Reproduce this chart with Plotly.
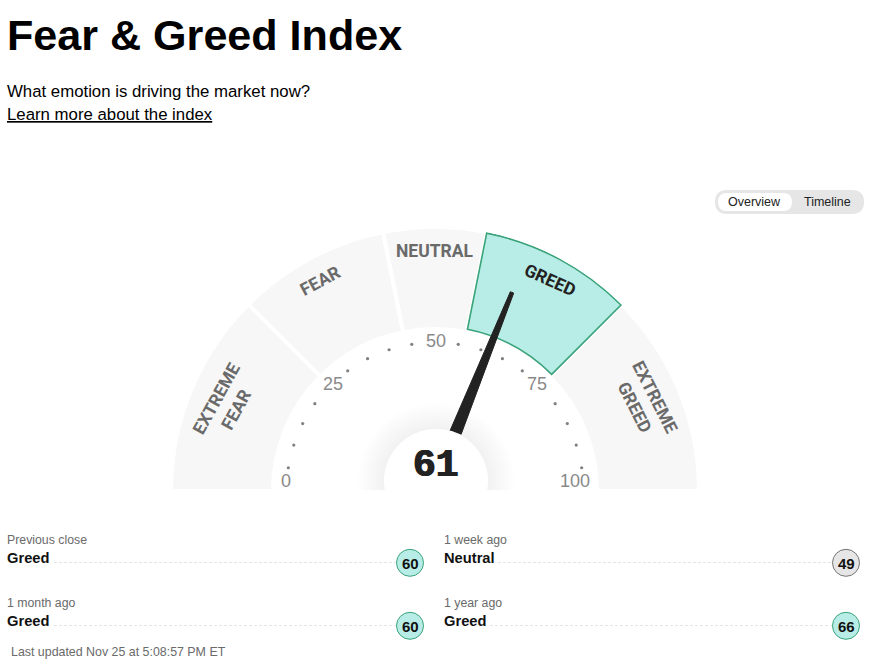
#!/usr/bin/env python3
# Fear & Greed gauge with the little history list below it.
import numpy as np
import plotly.graph_objects as go

W = 882
H = 659

# Gauge data
score = 61
band_names = ["EXTREME<br>FEAR", "FEAR", "NEUTRAL", "GREED", "EXTREME<br>GREED"]
band_edges = [0, 25, 43.7, 56.3, 75, 100]
tick_values = [0, 25, 50, 75, 100]
dot_values = [5, 10, 15, 20, 30, 35, 40, 45, 55, 60, 65, 70, 80, 85, 90, 95]

# History list
history_periods = ["Previous close", "1 week ago", "1 month ago", "1 year ago"]
history_ratings = ["Greed", "Neutral", "Greed", "Greed"]
history_scores = [60, 49, 60, 66]

SANS = "Liberation Sans"
CONDENSED = "Roboto"
MINT = "#b8ede7"
GREEN = "#3aa37a"
DARK = "#222222"
GRAY_TEXT = "#6a6a6a"

# Gauge geometry in pixels
CX = 435
CY = 491
R_MAX = 264
R_OUT = 263
R_IN = 165
R_DOTS = 148.5


def px(x):
    return x / W


def py(y):
    return 1 - y / H


def text(x, y, s, size, color="#000000", font=SANS, anchor="left", angle=0, shadow=None):
    f = dict(family=font, size=size, color=color)
    if shadow:
        f["shadow"] = shadow
    fig.add_annotation(xref="paper", yref="paper", x=px(x), y=py(y), text=s,
                       showarrow=False, xanchor=anchor, yanchor="middle",
                       textangle=angle, borderpad=0, align="center", font=f)


def circle(x, y, r, fill, line=None, width=0, layer="below"):
    fig.add_shape(type="circle", xref="paper", yref="paper", layer=layer,
                  x0=px(x - r), x1=px(x + r), y0=py(y + r), y1=py(y - r),
                  fillcolor=fill, line=dict(color=line, width=width))


def pill(x0, y0, x1, y1, fill):
    r = (y1 - y0) / 2
    path = (f"M {px(x0 + r)} {py(y0)} L {px(x1 - r)} {py(y0)} "
            f"Q {px(x1)} {py(y0)} {px(x1)} {py(y0 + r)} "
            f"Q {px(x1)} {py(y1)} {px(x1 - r)} {py(y1)} "
            f"L {px(x0 + r)} {py(y1)} "
            f"Q {px(x0)} {py(y1)} {px(x0)} {py(y0 + r)} "
            f"Q {px(x0)} {py(y0)} {px(x0 + r)} {py(y0)} Z")
    fig.add_shape(type="path", xref="paper", yref="paper", path=path,
                  fillcolor=fill, line=dict(width=0), layer="below")


fig = go.Figure()

# Bands of the gauge. The white outline eats into the gray ones, so they
# are a touch bigger than the highlighted band drawn on top afterwards.
edges = np.array(band_edges)
lefts = edges[:-1]
spans = edges[1:] - edges[:-1]
active = [lo <= score < lo + sp for lo, sp in zip(lefts, spans)]
fig.add_trace(go.Barpolar(
    theta=(lefts + spans / 2) * 1.8,
    width=spans * 1.8,
    r=[R_MAX - R_IN + 3] * len(lefts),
    base=R_IN - 3,
    marker=dict(color="#f7f7f7", line=dict(color="#ffffff", width=4)),
    hoverinfo="skip",
))
hi = active.index(True)
fig.add_trace(go.Barpolar(
    theta=[(lefts[hi] + spans[hi] / 2) * 1.8],
    width=[spans[hi] * 1.8],
    r=[R_OUT - R_IN],
    base=R_IN,
    marker=dict(color=MINT, line=dict(color=GREEN, width=1.6)),
    hoverinfo="skip",
))

# Dots between the tick labels
fig.add_trace(go.Scatterpolar(
    theta=np.array(dot_values) * 1.8,
    r=[R_DOTS] * len(dot_values),
    mode="markers",
    marker=dict(size=3.2, color="#808080"),
    hoverinfo="skip",
))

# Needle, a thin wedge that comes out from behind the hub.
# The picture's wedge leans a little, base and tip are not on one radius.
needle_deg = score * 1.8
needle_r = np.array([62, 213, 213, 62])
needle_half = np.array([5.8, 1.8, -1.8, -5.8])
needle_lean = np.array([-0.4, 1.4, 1.4, -0.4])
fig.add_trace(go.Scatterpolar(
    theta=needle_deg + needle_lean + np.degrees(np.arctan2(needle_half, needle_r)),
    r=np.hypot(needle_r, needle_half),
    mode="lines",
    fill="toself",
    fillcolor=DARK,
    line=dict(color=DARK, width=1),
    hoverinfo="skip",
))

fig.update_layout(
    width=W,
    height=H,
    margin=dict(l=0, r=0, t=0, b=0),
    paper_bgcolor="#ffffff",
    showlegend=False,
    polar=dict(
        domain=dict(x=[px(CX - R_MAX), px(CX + R_MAX)], y=[py(CY), py(CY - R_MAX)]),
        sector=[0, 180],
        bgcolor="rgba(0,0,0,0)",
        barmode="overlay",
        radialaxis=dict(range=[0, R_MAX], visible=False),
        angularaxis=dict(direction="clockwise", rotation=180, visible=False),
    ),
)

# Soft shadow around the hub, cut off at the gauge base.
# Very low alpha rounds away in the browser, so these rings are solid grays.
for i in range(13):
    shade = 254 - i
    circle(CX + 1, 481, 78 - 2 * i, "rgb(%d,%d,%d)" % (shade, shade, shade))
fig.add_shape(type="rect", xref="paper", yref="paper", layer="below",
              x0=px(340), x1=px(530), y0=py(575), y1=py(490),
              fillcolor="#ffffff", line=dict(width=0))
circle(CX + 1, 481, 52, "#ffffff", layer="above")
fig.add_shape(type="rect", xref="paper", yref="paper", layer="above",
              x0=px(380), x1=px(492), y0=py(535), y1=py(490),
              fillcolor="#ffffff", line=dict(width=0))

# Header
text(6, 35, "<b>Fear &amp; Greed Index</b>", 43.1)
text(6, 91, "What emotion is driving the market now?", 16.8)
text(6, 114, "<u>Learn more about the index</u>", 16.8)

# Overview / Timeline switch
pill(715, 190, 864, 214, "#e6e6e6")
pill(718, 193, 792, 211, "#ffffff")
text(754.5, 202, "Overview", 12.5, DARK, anchor="center")
text(827, 202, "Timeline", 12.5, DARK, anchor="center")

# Band labels
band_x = [226, 320, 435, 550, 645]
band_y = [404, 281, 251, 280, 402]
band_angle = [-61, -28, 0, 24, 63]
for name, x, y, angle, a in zip(band_names, band_x, band_y, band_angle, active):
    text(x, y, "<b>%s</b>" % name, 17.5, DARK if a else GRAY_TEXT, CONDENSED, "center", angle)

# Tick labels
tick_x = [286, 333, 436, 537, 575]
tick_y = [481, 384, 341, 384, 481]
for v, x, y in zip(tick_values, tick_x, tick_y):
    text(x, y, str(v), 18, "#8a8a8a", anchor="center")

# Score in the hub
text(435.5, 465, "<b>%d</b>" % score, 38, DARK, "Liberation Mono", "center",
     shadow="0.8px 0 0 #222222, -0.8px 0 0 #222222")

# History rows
row_x = [6, 443, 6, 443]
row_y = [558, 558, 621, 621]
row_line_x0 = [54, 498, 54, 490]
row_badge_x = [410, 846, 410, 846]
for i in range(len(history_periods)):
    x = row_x[i]
    y = row_y[i]
    text(x, y - 18.5, history_periods[i], 12.3, GRAY_TEXT)
    text(x, y, "<b>%s</b>" % history_ratings[i], 14.7, "#111111")
    fig.add_shape(type="line", xref="paper", yref="paper", layer="below",
                  x0=px(row_line_x0[i]), x1=px(row_badge_x[i] - 14),
                  y0=py(y + 4.5), y1=py(y + 4.5),
                  line=dict(color="#e4e4e4", width=1, dash="3px,2px"))
    neutral = history_ratings[i] == "Neutral"
    circle(row_badge_x[i], y + 4.8, 13.5, "#e6e6e6" if neutral else MINT,
           "#757575" if neutral else GREEN, 1)
    text(row_badge_x[i], y + 5, "<b>%d</b>" % history_scores[i], 15, "#111111", anchor="center")

text(10, 652, "Last updated Nov 25 at 5:08:57 PM ET", 12.4, GRAY_TEXT)

fig.write_html("out.html", config=dict(displayModeBar=False),
               post_script="document.body.style.margin='0';")
